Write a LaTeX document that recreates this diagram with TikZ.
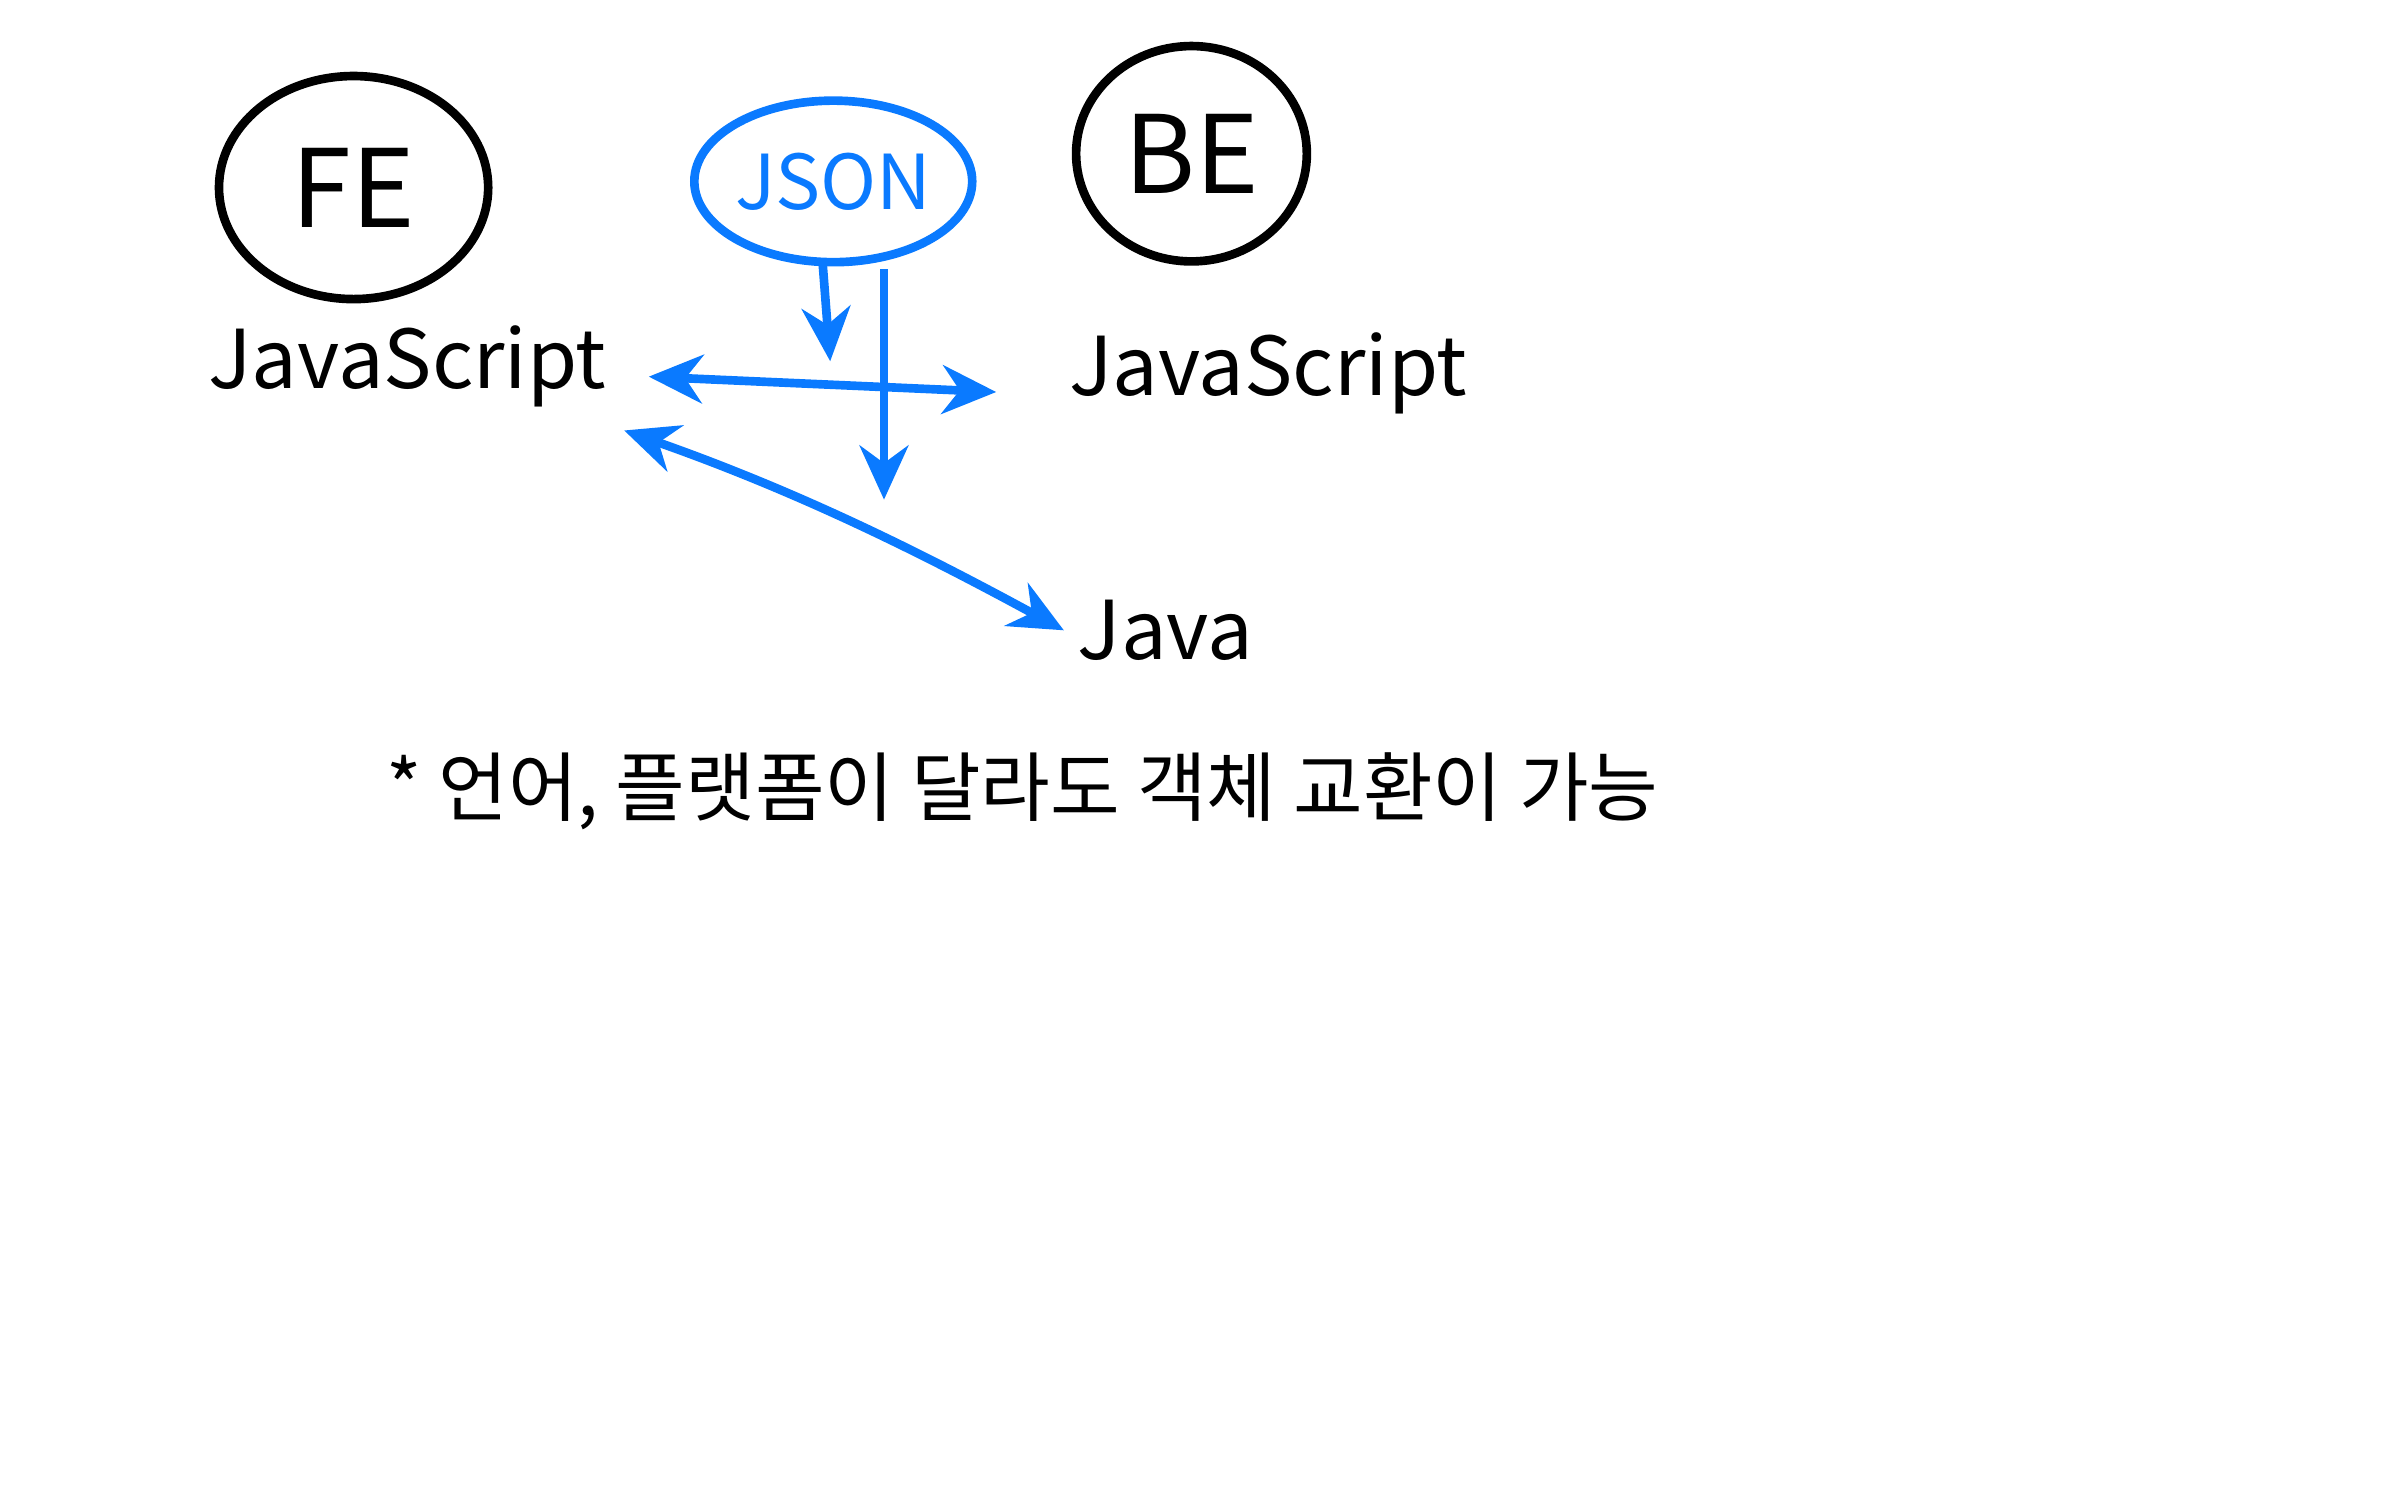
\documentclass[tikz,border=0pt]{standalone}
\usepackage{fontspec}
\setmainfont{Noto Sans CJK KR}
\usetikzlibrary{arrows.meta,shapes.geometric}
\definecolor{jb}{RGB}{10,122,255}
\begin{document}
\begin{tikzpicture}[x=0.01cm,y=-0.01cm,
  blk/.style={draw=black,line width=1.6pt,inner sep=0pt},
  blu/.style={draw=jb,line width=1.6pt},
  barr/.style={blu,-{Stealth[length=10pt,width=9pt]}},
  darr/.style={blu,{Stealth[length=10pt,width=9pt]}-{Stealth[length=10pt,width=9pt]}},
  lbl/.style={font=\fontsize{15}{18}\selectfont}]
\useasboundingbox (0,0) rectangle (1552,970);
\node[blk,ellipse,minimum width=1.75cm,minimum height=1.45cm,font=\fontsize{20}{24}\selectfont] (fe) at (230,122) {FE};
\node[blu,ellipse,minimum width=1.7cm,minimum height=1.05cm,inner sep=0pt,text=jb,font=\fontsize{14}{17}\selectfont] (json) at (542,118) {JSON};
\node[blk,ellipse,minimum width=1.5cm,minimum height=1.4cm,font=\fontsize{20}{24}\selectfont] (be) at (775,100) {BE};
\node[lbl] (jsl) at (265,238) {JavaScript};
\node[lbl] (jsr) at (825,243) {JavaScript};
\node[lbl] (java) at (758,410) {Java};
\node[font=\fontsize{14}{17}\selectfont] (note) at (665,515) {* 언어, 플랫폼이 달라도 객체 교환이 가능};
\coordinate (d1) at (540,235);
\coordinate (d2) at (575,325);
\coordinate (hl) at (422,245);
\coordinate (hr) at (648,255);
\coordinate (gl) at (406,280);
\coordinate (gr) at (692,410);
\draw[barr] (535,170) -- (d1);
\draw[barr] (575,175) -- (d2);
\draw[darr] (hl) -- (hr);
\draw[darr] (gl) .. controls (520,320) and (600,360) .. (gr);
\end{tikzpicture}
\end{document}
